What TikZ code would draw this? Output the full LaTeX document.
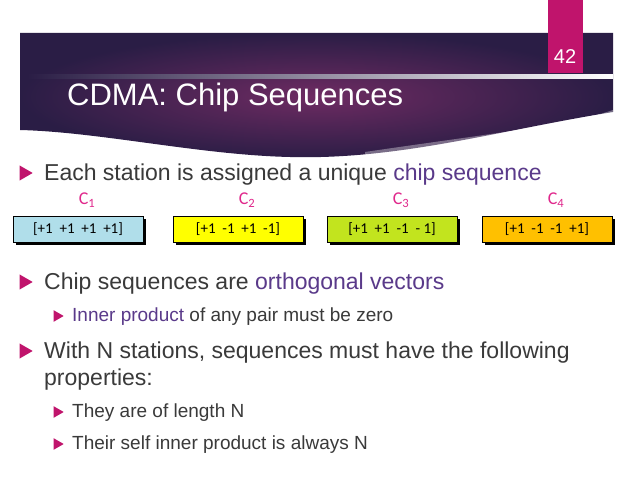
\documentclass[tikz,border=0pt]{standalone}
\usepackage{fontspec}
\setmainfont{Liberation Sans}
\newfontfamily\carl{Carlito}
\usetikzlibrary{shapes.geometric,shadows}
\definecolor{dk}{HTML}{2A1D45}
\definecolor{mg}{HTML}{6E2B62}
\definecolor{pk}{HTML}{C0146C}
\definecolor{pu}{HTML}{5A3A8A}
\definecolor{tx}{HTML}{3A3A3A}
\definecolor{lb}{HTML}{B0DEEA}
\definecolor{ye}{HTML}{FFFF00}
\definecolor{li}{HTML}{C2E41E}
\definecolor{og}{HTML}{FFC000}
\definecolor{cl}{HTML}{E0288C}
\begin{document}
\begin{tikzpicture}[x=1pt,y=-1pt,
  bul/.style={fill=pk,draw=none,isosceles triangle,isosceles triangle apex angle=60,inner sep=0},
  body/.style={anchor=base west,text=tx,font=\fontsize{23}{26}\selectfont,inner sep=0},
  sub/.style={anchor=base west,text=tx,font=\fontsize{19}{22}\selectfont,inner sep=0},
  chip/.style={draw=black,line width=0.6pt,minimum width=130pt,minimum height=26pt,inner sep=0,font=\carl\fontsize{15}{17}\selectfont,drop shadow={shadow xshift=3pt,shadow yshift=-3pt,fill=black,opacity=1}},
  clab/.style={text=cl,font=\carl\fontsize{18}{20}\selectfont,inner sep=0}]
\useasboundingbox (0,0) rectangle (638,478);
\fill[white] (0,0) rectangle (638,478);
\shade[inner color=mg,outer color=dk] (20,33) -- (613,33) -- (613,112) .. controls (500,130) and (400,160) .. (290,157) .. controls (200,155) and (100,132) .. (20,130) -- cycle;
\fill[white,opacity=0.35] (365,152) .. controls (480,135) and (570,125) .. (613,110) -- (613,115) .. controls (570,130) and (480,142) .. (365,156) -- cycle;
\fill[pk] (548,0) rectangle (583,73);
\node[text=white,font=\fontsize{20}{22}\selectfont] (num) at (565,57) {42};
\shade[left color=dk,right color=white] (27,75) rectangle (613,79);
\node[anchor=base west,text=white,font=\fontsize{31}{34}\selectfont,inner sep=0] (title) at (67,106) {CDMA: Chip Sequences};
\node[bul,minimum height=13pt] (b1) at (24,173) {};
\node[body] (t1) at (44,181) {Each station is assigned a unique \textcolor{pu}{chip sequence}};
\foreach \i/\x/\c/\s in {1/78/lb/{[+1\ \ +1\ \ +1\ \ +1]},2/238/ye/{[+1\ \ -1\ \ +1\ \ -1]},3/392/li/{[+1\ \ +1\ \ -1\ \ - 1]},4/547/og/{[+1\ \ -1\ \ -1\ \ +1]}}{
  \node[chip,fill=\c] (k\i) at (\x,229) {\s};
  \node[clab] (c\i) at (\x+9,200) {C\textsubscript{\i}};
}
\node[bul,minimum height=13pt] (b2) at (24,282) {};
\node[body] (t2) at (44,290) {Chip sequences are \textcolor{pu}{orthogonal vectors}};
\node[bul,minimum height=10pt] (b3) at (57,316) {};
\node[sub] (t3) at (72,322) {\textcolor{pu}{Inner product} of any pair must be zero};
\node[bul,minimum height=13pt] (b4) at (24,351) {};
\node[body] (t4) at (44,359) {With N stations, sequences must have the following};
\node[body] (t5) at (44,386) {properties:};
\node[bul,minimum height=10pt] (b5) at (57,412) {};
\node[sub] (t6) at (72,418) {They are of length N};
\node[bul,minimum height=10pt] (b6) at (57,444) {};
\node[sub] (t7) at (72,450) {Their self inner product is always N};
\end{tikzpicture}
\end{document}
